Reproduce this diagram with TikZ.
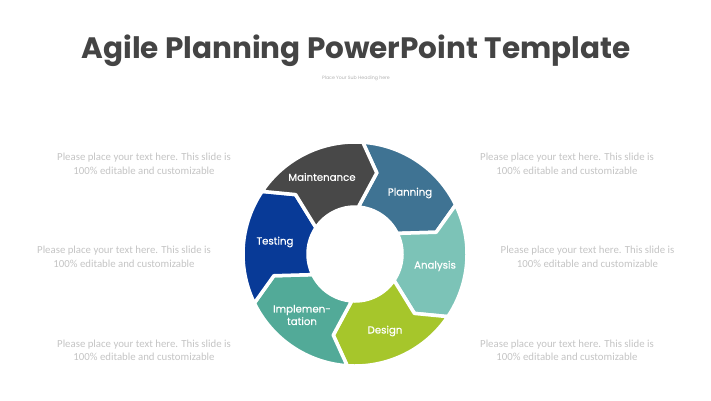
\documentclass[tikz,border=0pt]{standalone}
\usepackage{fontspec}
\setmainfont{Poppins}
\newfontfamily\notefont{Carlito}
\newfontfamily\lblfont{Poppins}[FakeBold=0.5]
\usetikzlibrary{positioning}
\definecolor{maintgray}{HTML}{484848}
\definecolor{planblue}{HTML}{3F7393}
\definecolor{analteal}{HTML}{7CC3B7}
\definecolor{desgreen}{HTML}{A6C62B}
\definecolor{implteal}{HTML}{52AA98}
\definecolor{testnavy}{HTML}{083A97}
\definecolor{titlegray}{HTML}{444444}
\definecolor{notegray}{HTML}{C4C4C4}

\begin{document}
\begin{tikzpicture}[x=1pt,y=1pt,
  seg/.style={fill=#1,draw=white,line width=3.5pt,line join=round},
  lbl/.style={text=white,font=\lblfont\fontsize{10.2}{12.5}\selectfont,align=center},
  note/.style={text=notegray,font=\notefont\fontsize{10.8}{13.5}\selectfont,align=center}]
  \useasboundingbox (0,0) rectangle (711,400);

  \node[text=titlegray,font=\bfseries\fontsize{29.5}{32}\selectfont,anchor=base] (title) at (356,341.3) {Agile Planning PowerPoint Template};
  \node[text=gray!60,font=\fontsize{4.7}{6}\selectfont] (subhead) [below=14pt of title.base] {Place Your Sub Heading here};

  % ring of six chevrons
  \coordinate (c) at (355,146);
  \foreach \a/\col in {86/planblue,26/analteal,-34/desgreen,-94/implteal,-154/testnavy,146/maintgray}
  {
    \pgfmathsetmacro{\b}{\a-60}
    \filldraw[seg=\col] ([shift={(\a:112)}]c) arc[start angle=\a,end angle=\b,radius=112]
      -- ([shift={(\b-11:84)}]c) -- ([shift={(\b:47)}]c)
      arc[start angle=\b,end angle=\a,radius=47]
      -- ([shift={(\a-11:84)}]c) -- cycle;
  }

  \node[lbl] (maint) at (322,223) {Maintenance};
  \node[lbl] (plan)  at (410,207) {Planning};
  \node[lbl] (anal)  at (435,134) {Analysis};
  \node[lbl] (des)   at (385,69)  {Design};
  \node[lbl] (impl)  at (302,85)  {Implemen-\\tation};
  \node[lbl] (test)  at (275,158) {Testing};

  % side notes
  \node[note] (noteTL) at (144,236.3) {Please place your text here. This slide is\\100\% editable and customizable};
  \node[note] (noteML) at (124,143)   {Please place your text here. This slide is\\100\% editable and customizable};
  \node[note] (noteBL) at (144,49.5)  {Please place your text here. This slide is\\100\% editable and customizable};
  \node[note] (noteTR) at (567,236.3) {Please place your text here. This slide is\\100\% editable and customizable};
  \node[note] (noteMR) at (587.5,143) {Please place your text here. This slide is\\100\% editable and customizable};
  \node[note] (noteBR) at (567,49.5)  {Please place your text here. This slide is\\100\% editable and customizable};
\end{tikzpicture}
\end{document}
